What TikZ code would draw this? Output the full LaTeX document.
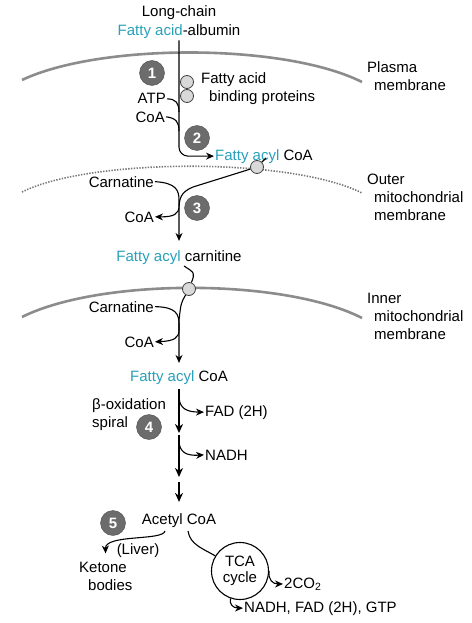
\documentclass[tikz,border=0pt]{standalone}
\usepackage{fontspec}
\setmainfont{Liberation Sans}
\usetikzlibrary{arrows.meta,calc,positioning}
\definecolor{acyl}{RGB}{40,160,185}
\definecolor{stepgray}{RGB}{108,108,108}
\definecolor{membgray}{RGB}{140,140,140}

\begin{document}
\begin{tikzpicture}[x=1pt,y=-1pt,
  lbl/.style={font=\fontsize{15}{18}\selectfont,inner sep=1pt},
  stepnum/.style={circle,fill=stepgray,draw=stepgray!70!black,text=white,
    font=\fontsize{15}{15}\selectfont\bfseries,minimum size=25pt,inner sep=0pt},
  carrier/.style={circle,fill=black!15,draw=black!75,line width=0.8pt,
    minimum size=13pt,inner sep=0pt},
  flow/.style={-{Stealth[length=8pt,width=7pt]},line width=1.1pt},
  bigflow/.style={-{Stealth[length=9pt,width=8pt]},line width=1.9pt},
  link/.style={line width=1.1pt}]
\useasboundingbox (0,0) rectangle (471,623);

% Membranes
\draw[membgray,line width=2.6pt] (22,80) .. controls (100,43) and (284,43) .. (362,82);
\draw[membgray!85!black,line width=1.6pt,dash pattern=on 1.4pt off 1.4pt]
  (22,192) .. controls (90,158) and (290,157) .. (362,193);
\draw[membgray,line width=2.6pt] (22,317) .. controls (100,278) and (284,278) .. (362,318);

\node[lbl,anchor=base west,align=left] (plasma) at (366,91) {Plasma\\\hspace*{7pt}membrane};
\node[lbl,anchor=base west,align=left] (outer) at (366,220)
  {Outer\\\hspace*{7pt}mitochondrial\\\hspace*{7pt}membrane};
\node[lbl,anchor=base west,align=left] (inner) at (366,339)
  {Inner\\\hspace*{7pt}mitochondrial\\\hspace*{7pt}membrane};

% Uptake and activation
\node[lbl,anchor=base] (longchain) at (179,17) {Long-chain};
\node[lbl,anchor=base] (albumin) at (179,36) {\textcolor{acyl}{Fatty acid}-albumin};
\node[carrier] (fabp1) at (187,82) {};
\node[carrier] (fabp2) at (187,96) {};
\node[lbl,anchor=base west,align=left] (fabp) at (200,102) {Fatty acid\\\hspace*{8pt}binding proteins};
\node[lbl,anchor=base east] (atp) at (167,104) {ATP};
\node[lbl,anchor=base east] (coa1) at (166,122) {CoA};
\node[lbl,anchor=base west] (acylcoa1) at (214,160) {\textcolor{acyl}{Fatty acyl} CoA};
\node[stepnum] (s1) at (152,73) {1};
\node[stepnum] (s2) at (197,138) {2};

\coordinate (jatp) at (179,112);
\coordinate (jcoa) at (179,131);
\draw[flow,rounded corners=9pt] (albumin.south) |- (acylcoa1.west);
\draw[link] (atp.east) .. controls (176,99) and (179,103) .. (jatp);
\draw[link] (coa1.east) .. controls (176,118) and (179,122) .. (jcoa);

% Outer mitochondrial membrane
\node[carrier] (t1) at (257,167) {};
\node[lbl,anchor=base east] (carn1) at (155,187) {Carnatine};
\node[lbl,anchor=base east] (coa2) at (155,222) {CoA};
\node[lbl,anchor=base] (acylcarn) at (179,261) {\textcolor{acyl}{Fatty acyl} carnitine};
\node[stepnum] (s3) at (197,208) {3};

\coordinate (jout1) at (193,187);
\coordinate (jout2) at (179,210);
\draw[link] (t1.north east) -- ++(4,-4);
\draw[flow,shorten >=8pt] (t1) -- (jout1) .. controls (181,192) and (179,198) .. (jout2)
  -- (acylcarn.north);
\draw[flow] (carn1.east) .. controls (176,183) and (179,190) .. (179,200)
  -- (179,206) .. controls (179,214) and (174,217) .. (coa2.east);

% Inner mitochondrial membrane
\node[carrier] (t2) at (189,289) {};
\node[lbl,anchor=base east] (carn2) at (155,312) {Carnatine};
\node[lbl,anchor=base east] (coa3) at (155,347) {CoA};
\node[lbl,anchor=base] (acylcoa2) at (179,381) {\textcolor{acyl}{Fatty acyl} CoA};

\coordinate (jin1) at (184,266);
\coordinate (jin2) at (179,320);
\draw[link] (jin1) .. controls (195,273) .. (t2);
\draw[flow,shorten >=6pt] (t2) .. controls (181,303) .. (jin2) -- (acylcoa2.north);
\draw[flow] (carn2.east) .. controls (176,307) and (179,314) .. (179,324)
  -- (179,330) .. controls (179,338) and (174,341) .. (coa3.east);

% Beta-oxidation
\node[lbl,anchor=base west,align=left] (betaox) at (91,427) {β-oxidation\\spiral};
\node[lbl,anchor=base west] (fad) at (204,416) {FAD (2H)};
\node[lbl,anchor=base west] (nadh) at (204,460) {NADH};
\node[stepnum] (s4) at (149,427) {4};
\node[lbl,anchor=base] (acetyl) at (179,524) {Acetyl CoA};

\coordinate (ox1) at (179,433);
\coordinate (ox2) at (179,477);
\coordinate (jfad) at (179,398);
\coordinate (jnadh) at (179,442);
\draw[bigflow,shorten <=4pt] (acylcoa2.south) -- (ox1);
\draw[bigflow,shorten <=2pt] (ox1) -- (ox2);
\draw[bigflow,shorten <=5pt,shorten >=10pt] (ox2) -- (acetyl.north);
\draw[flow] (jfad) .. controls (180,408) and (186,412) .. (fad.west);
\draw[flow] (jnadh) .. controls (180,452) and (186,456) .. (nadh.west);

% Acetyl CoA fates
\node[stepnum] (s5) at (113,523) {5};
\node[lbl,anchor=base] (liver) at (138,554) {(Liver)};
\node[lbl,anchor=base west,align=left] (ketone) at (78,590) {Ketone\\\hspace*{9pt}bodies};
\node[circle,draw,line width=1.1pt,minimum size=57pt,inner sep=0pt,
  font=\fontsize{15}{16}\selectfont,align=center] (tca) at (240,571) {TCA\\cycle};
\node[lbl,anchor=base west] (co2) at (283,588) {2CO\textsubscript{2}};
\node[lbl,anchor=base west] (nadhfad) at (243,612) {NADH, FAD (2H), GTP};

\coordinate (jket) at (165,531);
\coordinate (jtca) at (188,531);
\draw[flow,shorten >=7pt] (jket) .. controls (163,541) and (105,534) .. (ketone.north);
\draw[link] (jtca) .. controls (190,545) and (204,549) .. (tca);
\draw[flow] (tca.east) .. controls (268,580) and (273,584) .. (co2.west);
\draw[flow] (tca.-109) .. controls (229,604) and (233,608) .. (nadhfad.west);
\end{tikzpicture}
\end{document}
